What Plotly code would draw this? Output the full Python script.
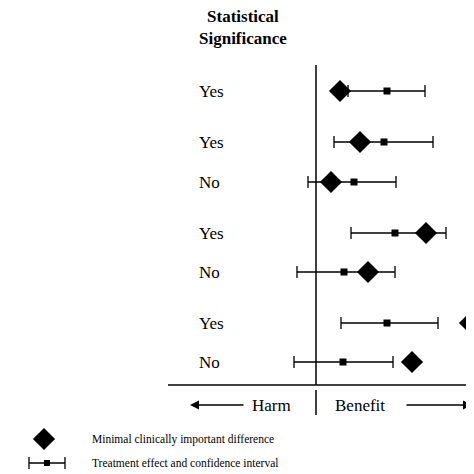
import plotly.graph_objects as go

# rows (positions in chart units: 0-474 canvas grid)
row_y = [91, 142, 182, 233, 272, 323, 362]
stat_sig = ["Yes", "Yes", "No", "Yes", "No", "Yes", "No"]
ci_low = [348, 334, 308, 351, 297, 341, 294]
ci_high = [425, 433, 396, 446, 395, 438, 393]
effect = [387, 384, 354, 395, 344, 387, 343]
mcid = [340, 360, 331, 426, 368, 470, 412]
clin_labels = ["1- <b>Definite</b>", "2- Probable", "3- Possible", "4- Definitely Not"]
clin_y = [91, 142, 233, 323]

F = "Liberation Serif, Times New Roman, serif"
fig = go.Figure()

fig.add_trace(go.Scatter(
    x=effect, y=row_y, mode="markers", cliponaxis=False,
    marker=dict(symbol="square", size=7, color="black"),
    error_x=dict(type="data", symmetric=False,
                 array=[h - e for h, e in zip(ci_high, effect)],
                 arrayminus=[e - l for e, l in zip(effect, ci_low)],
                 color="black", thickness=1.3, width=6)))
fig.add_trace(go.Scatter(
    x=mcid, y=row_y, mode="markers", cliponaxis=False,
    marker=dict(symbol="diamond", size=17, color="black")))

# legend marks
fig.add_trace(go.Scatter(x=[44], y=[439], mode="markers",
                         marker=dict(symbol="diamond", size=17, color="black")))
fig.add_trace(go.Scatter(x=[47], y=[463], mode="markers",
                         marker=dict(symbol="square", size=6, color="black"),
                         error_x=dict(type="data", array=[18], color="black",
                                      thickness=1.3, width=6)))

shapes = [
    dict(type="line", x0=316, x1=316, y0=65, y1=385),
    dict(type="line", x0=168, x1=474, y0=385, y1=385),
    dict(type="line", x0=316, x1=316, y0=390, y1=415),
]
for s in shapes:
    s.update(xref="x", yref="y", line=dict(color="black", width=1.5))

ann = []
def txt(x, y, t, size=17, xanchor="left"):
    ann.append(dict(x=x, y=y, text=t, showarrow=False, xanchor=xanchor,
                    yanchor="middle", font=dict(family=F, size=size, color="black")))

txt(0, 27, "<b>Clinical<br>Significance</b>")
txt(197, 27, "<b>Statistical<br>Significance</b>")
for lab, y in zip(clin_labels, clin_y):
    txt(0, y, lab)
for s, y in zip(stat_sig, row_y):
    txt(197, y, s)
txt(250, 405, "Harm")
txt(333, 405, "Benefit")
txt(90, 439, "Minimal clinically important difference", size=11.5)
txt(90, 463, "Treatment effect and confidence interval", size=11.5)
for x0, x1 in [(245, 190), (405, 472)]:
    ann.append(dict(x=x1, y=405, ax=x0, ay=405, xref="x", yref="y",
                    axref="x", ayref="y", text="", showarrow=True,
                    arrowhead=2, arrowsize=1.2, arrowwidth=1.5, arrowcolor="black"))

fig.update_layout(
    width=474, height=474, margin=dict(l=0, r=0, t=0, b=0),
    paper_bgcolor="white", plot_bgcolor="white", showlegend=False,
    shapes=shapes, annotations=ann,
    xaxis=dict(range=[8, 482], visible=False),
    yaxis=dict(range=[482, 8], visible=False),
)
fig.write_html("out.html")
